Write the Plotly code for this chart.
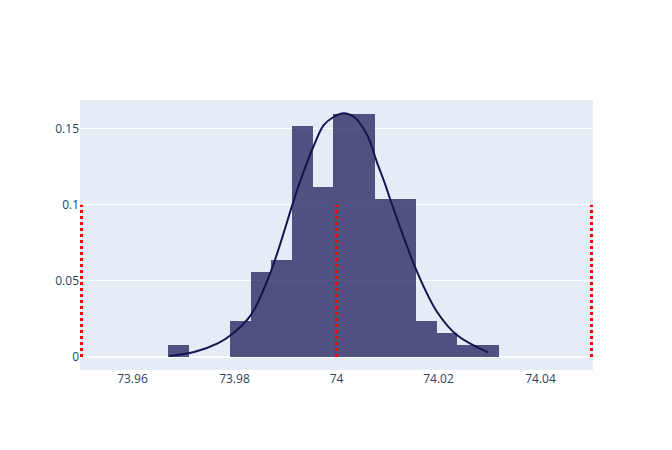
import plotly.graph_objs as go

# histogram bins (probability per bin)
bin_start = 73.967
bin_size = 0.00405
bin_prob = [0.008, 0.0, 0.0, 0.024, 0.056, 0.064, 0.152, 0.112,
            0.160, 0.160, 0.104, 0.104, 0.024, 0.016, 0.008, 0.008]

# fitted curve, points
curve_x = [73.9672, 73.9721, 73.9767, 73.9793, 73.9832, 73.9871, 73.9926,
           73.9956, 73.9975, 73.9995, 74.0011, 74.0034, 74.0060, 74.0079,
           74.0096, 74.0105, 74.0158, 74.0197, 74.0236, 74.0297]
curve_y = [0.0007, 0.0033, 0.009, 0.0145, 0.0276, 0.056, 0.113,
           0.1393, 0.1524, 0.1579, 0.1601, 0.1579, 0.1459, 0.1283,
           0.113, 0.104, 0.056, 0.0298, 0.0145, 0.0031]

# spec limits: lower, target, upper
spec_x = [73.95, 74.0, 74.05]
spec_height = 0.1

bin_centers = [bin_start + bin_size * (i + 0.5) for i in range(len(bin_prob))]

fig = go.Figure()

fig.add_trace(go.Bar(x=bin_centers, y=bin_prob, width=bin_size,
                     marker=dict(color='rgb(30,30,90)', line=dict(width=0)),
                     opacity=0.75, name='hist'))

fig.add_trace(go.Scatter(x=curve_x, y=curve_y, mode='lines', name='curve',
                         line=dict(color='rgb(20,20,80)', width=2, shape='spline')))

for sx in spec_x:
    fig.add_trace(go.Scatter(x=[sx, sx], y=[0, spec_height], mode='lines',
                             line=dict(color='red', width=3, dash='dot')))

# page body has an 8px margin, so shrink the figure and shift the margins
fig.update_layout(width=664, height=442, autosize=False,
                  margin=dict(l=72, r=79, t=92, b=80),
                  showlegend=False, bargap=0,
                  xaxis=dict(range=[73.9497, 74.0503]),
                  yaxis=dict(range=[-0.0085, 0.1689]))

fig.write_html("out.html")
